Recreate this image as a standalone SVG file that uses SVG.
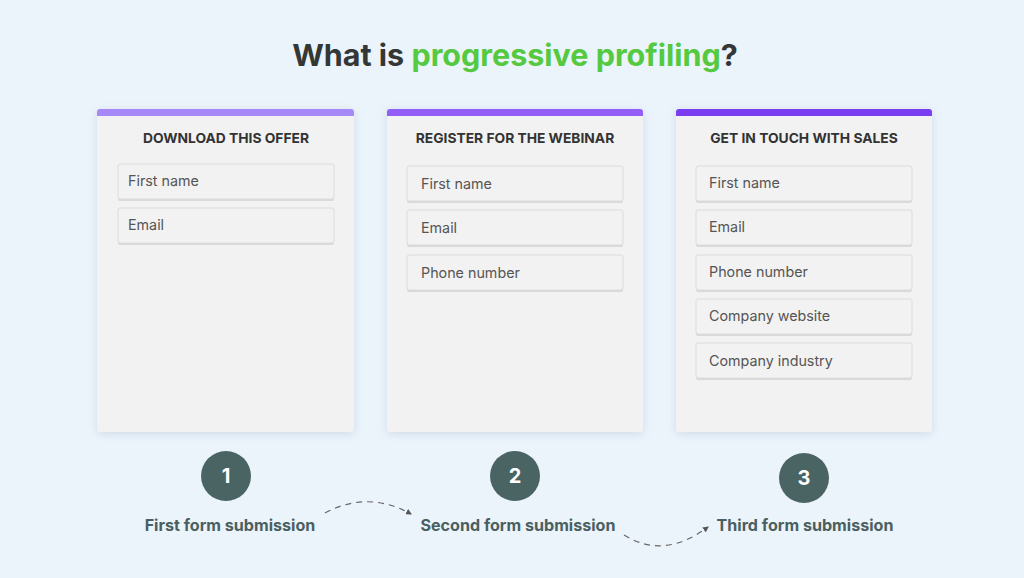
<svg xmlns="http://www.w3.org/2000/svg" width="1024" height="578" viewBox="0 0 1024 578">
<defs>
<style>
.title{font-family:"Inter","Liberation Sans",sans-serif;font-size:30.5px;font-weight:700;fill:#333836}
.green{fill:#55C93F}
.card{fill:#F2F2F2}
.head{font-family:"Inter","Liberation Sans",sans-serif;font-size:13.8px;font-weight:700;fill:#333;text-anchor:middle}
.field{fill:#F2F2F2;stroke:#DCDCDC;stroke-width:1}
.fshadow{fill:#D9D9D9}
.ftext{font-family:"Inter","Liberation Sans",sans-serif;font-size:14.3px;fill:#555}
.circ{fill:#4A6464}
.num{font-family:"Inter","Liberation Sans",sans-serif;font-size:20px;font-weight:700;fill:#fff;text-anchor:middle}
.lbl{font-family:"Inter","Liberation Sans",sans-serif;font-size:16.1px;font-weight:700;fill:#4A5F5F;text-anchor:middle}
.dash{fill:none;stroke:#666;stroke-width:1.2;stroke-dasharray:6 5}
</style>
<filter id="sh" x="-10%" y="-10%" width="120%" height="120%">
<feDropShadow dx="0" dy="2" stdDeviation="4" flood-color="#9DB0C8" flood-opacity="0.35"/>
</filter>
<marker id="arr" viewBox="0 0 6 6" refX="5" refY="3" markerWidth="5" markerHeight="5" orient="auto">
<path d="M0,0 L6,3 L0,6 z" fill="#555"/>
</marker>
</defs>
<rect width="1024" height="578" fill="#EBF3FB"/>
<text x="515" y="66" text-anchor="middle" class="title">What is <tspan class="green">progressive profiling</tspan>?</text>

<g id="card1">
<rect x="97" y="109" width="257" height="323" rx="3" class="card" filter="url(#sh)"/>
<path d="M97,116 V112 a3,3 0 0 1 3,-3 H351 a3,3 0 0 1 3,3 V116 z" fill="#A788F7"/>
<text x="226" y="143" class="head">DOWNLOAD THIS OFFER</text>
<rect x="118" y="165" width="216" height="36" rx="2" class="fshadow"/>
<rect x="118" y="164" width="216" height="35" rx="2" class="field"/>
<text x="128" y="186" class="ftext">First name</text>
<rect x="118" y="209" width="216" height="36" rx="2" class="fshadow"/>
<rect x="118" y="208" width="216" height="35" rx="2" class="field"/>
<text x="128" y="230" class="ftext">Email</text>
</g>

<g id="card2">
<rect x="387" y="109" width="256" height="323" rx="3" class="card" filter="url(#sh)"/>
<path d="M387,116 V112 a3,3 0 0 1 3,-3 H640 a3,3 0 0 1 3,3 V116 z" fill="#925EF5"/>
<text x="515" y="143" class="head">REGISTER FOR THE WEBINAR</text>
<rect x="407" y="167" width="216" height="36" rx="2" class="fshadow"/>
<rect x="407" y="166" width="216" height="35" rx="2" class="field"/>
<text x="421" y="189" class="ftext">First name</text>
<rect x="407" y="211" width="216" height="36" rx="2" class="fshadow"/>
<rect x="407" y="210" width="216" height="35" rx="2" class="field"/>
<text x="421" y="233" class="ftext">Email</text>
<rect x="407" y="256" width="216" height="36" rx="2" class="fshadow"/>
<rect x="407" y="255" width="216" height="35" rx="2" class="field"/>
<text x="421" y="278" class="ftext">Phone number</text>
</g>

<g id="card3">
<rect x="676" y="109" width="256" height="323" rx="3" class="card" filter="url(#sh)"/>
<path d="M676,116 V112 a3,3 0 0 1 3,-3 H929 a3,3 0 0 1 3,3 V116 z" fill="#7A3EF0"/>
<text x="804" y="143" class="head">GET IN TOUCH WITH SALES</text>
<rect x="696" y="167" width="216" height="36" rx="2" class="fshadow"/>
<rect x="696" y="166" width="216" height="35" rx="2" class="field"/>
<text x="709" y="188" class="ftext">First name</text>
<rect x="696" y="211" width="216" height="36" rx="2" class="fshadow"/>
<rect x="696" y="210" width="216" height="35" rx="2" class="field"/>
<text x="709" y="232" class="ftext">Email</text>
<rect x="696" y="256" width="216" height="36" rx="2" class="fshadow"/>
<rect x="696" y="255" width="216" height="35" rx="2" class="field"/>
<text x="709" y="277" class="ftext">Phone number</text>
<rect x="696" y="300" width="216" height="36" rx="2" class="fshadow"/>
<rect x="696" y="299" width="216" height="35" rx="2" class="field"/>
<text x="709" y="321" class="ftext">Company website</text>
<rect x="696" y="344" width="216" height="36" rx="2" class="fshadow"/>
<rect x="696" y="343" width="216" height="35" rx="2" class="field"/>
<text x="709" y="366" class="ftext">Company industry</text>
</g>

<g id="step1">
<circle cx="226" cy="476" r="25" class="circ"/>
<text x="226" y="483" class="num">1</text>
<text x="230" y="531" class="lbl">First form submission</text>
</g>
<g id="step2">
<circle cx="515" cy="476" r="25" class="circ"/>
<text x="515" y="483" class="num">2</text>
<text x="518" y="531" class="lbl">Second form submission</text>
</g>
<g id="step3">
<circle cx="804" cy="478" r="25" class="circ"/>
<text x="804" y="485" class="num">3</text>
<text x="805" y="531" class="lbl">Third form submission</text>
</g>

<g id="connectors">
<path d="M325,513 Q368,490 411,514" class="dash" marker-end="url(#arr)"/>
<path d="M624,535 Q664,560 708,527" class="dash" marker-end="url(#arr)"/>
</g>
</svg>
